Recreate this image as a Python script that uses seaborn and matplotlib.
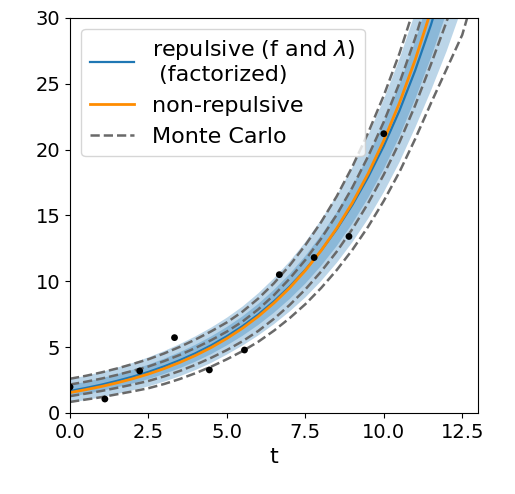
import numpy as np
import matplotlib
matplotlib.use("Agg")
import matplotlib.pyplot as plt
import seaborn as sns

# observed points
obs_t = [0.0, 1.11, 2.22, 3.33, 4.44, 5.56, 6.67, 7.78, 8.89, 10.0]
obs_y = [1.97, 1.06, 3.19, 5.72, 3.27, 4.78, 10.5, 11.8, 13.4, 21.2]

# curves, on a 0.5 grid
t_grid = [0.0, 0.5, 1.0, 1.5, 2.0, 2.5, 3.0, 3.5, 4.0, 4.5, 5.0, 5.5, 6.0,
          6.5, 7.0, 7.5, 8.0, 8.5, 9.0, 9.5, 10.0, 10.5, 11.0, 11.5, 12.0, 12.5, 13.0]
nonrep_mean = [1.55, 1.77, 2.01, 2.29, 2.60, 2.96, 3.37, 3.84, 4.37, 4.97, 5.66, 6.44, 7.33,
               8.35, 9.50, 10.82, 12.32, 14.02, 15.96, 18.17, 20.68, 23.54, 26.80, 30.51, 34.73, 39.5, 45.0]
rep_mean = [1.67, 1.90, 2.15, 2.44, 2.76, 3.12, 3.54, 4.01, 4.54, 5.14, 5.83, 6.60, 7.48,
            8.48, 9.60, 10.87, 12.32, 13.95, 15.80, 17.90, 20.27, 22.95, 26.00, 29.44, 33.34, 37.7, 42.6]
rep_sd = [0.45, 0.46, 0.48, 0.50, 0.52, 0.55, 0.58, 0.61, 0.64, 0.67, 0.70, 0.74, 0.80,
          0.87, 0.95, 1.05, 1.16, 1.28, 1.42, 1.58, 1.76, 1.96, 2.18, 2.50, 2.95, 3.45, 4.0]
mc_mean = [1.72, 1.92, 2.14, 2.40, 2.68, 2.98, 3.36, 3.80, 4.30, 4.86, 5.48, 6.20, 7.05,
           8.05, 9.20, 10.50, 11.98, 13.65, 15.55, 17.70, 20.10, 22.80, 25.90, 29.40, 33.3, 37.7, 42.8]
mc_sd = [0.44, 0.45, 0.47, 0.49, 0.52, 0.55, 0.58, 0.61, 0.64, 0.67, 0.70, 0.75, 0.82,
         0.90, 1.00, 1.12, 1.25, 1.40, 1.58, 1.78, 2.0, 2.25, 2.55, 2.95, 3.6, 4.5, 5.0]

t = np.array(t_grid)
rm = np.array(rep_mean)
rs = np.array(rep_sd)
mm = np.array(mc_mean)
ms = np.array(mc_sd)

plt.rcParams['font.size'] = 14

fig, ax = plt.subplots(figsize=(5.15, 4.94), dpi=100)
fig.subplots_adjust(left=0.136, right=0.928, bottom=0.164, top=0.964)

# bands (2 sd and 1 sd)
ax.fill_between(t, rm - 2 * rs, rm + 2 * rs, color='C0', alpha=0.3, lw=0)
ax.fill_between(t, rm - rs, rm + rs, color='C0', alpha=0.3, lw=0)

sns.lineplot(x=t, y=rm, color='C0', lw=1.6, ax=ax, label='repulsive (f and $\\lambda$)\n (factorized)')
sns.lineplot(x=t, y=np.array(nonrep_mean), color='darkorange', lw=2.0, ax=ax, label='non-repulsive')

for k in [1, 2]:
    sns.lineplot(x=t, y=mm + k * ms, color='dimgray', lw=1.8, ls='--', ax=ax,
                 label='Monte Carlo' if k == 1 else None)
    sns.lineplot(x=t, y=mm - k * ms, color='dimgray', lw=1.8, ls='--', ax=ax)

sns.scatterplot(x=obs_t, y=obs_y, color='black', s=24, edgecolor='none', ax=ax, zorder=5)

ax.set_xlim(0, 13)
ax.set_ylim(0, 30)
ax.set_xticks([0, 2.5, 5, 7.5, 10, 12.5])
ax.set_xlabel('t', fontsize=16)
ax.set_ylabel('')
ax.legend(loc='upper left', fontsize=16)

plt.savefig('out.png')
